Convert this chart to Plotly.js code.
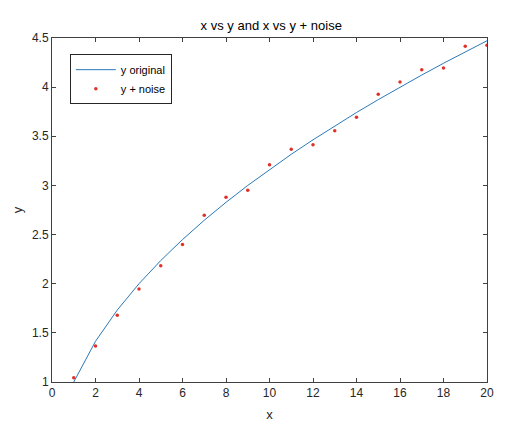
<!DOCTYPE html>
<html>
<head>
<meta charset="utf-8">
<script src="https://cdn.plot.ly/plotly-3.0.1.min.js"></script>
<style>html,body{margin:0;padding:0;background:#fff;}#chart{width:507px;height:440px;}</style>
</head>
<body>
<div id="chart"></div>
<script>
const xValues = [1,2,3,4,5,6,7,8,9,10,11,12,13,14,15,16,17,18,19,20];
const yOriginal = [1.000,1.414,1.732,2.000,2.236,2.449,2.646,2.828,3.000,3.162,3.317,3.464,3.606,3.742,3.873,4.000,4.123,4.243,4.359,4.472];
const yNoise = [1.044,1.366,1.679,1.946,2.183,2.400,2.696,2.879,2.950,3.211,3.367,3.414,3.557,3.693,3.927,4.052,4.177,4.194,4.415,4.425];
const xTicks = [0,2,4,6,8,10,12,14,16,18,20];
const yTicks = [1,1.5,2,2.5,3,3.5,4,4.5];

const font = {family: 'Liberation Sans, Arial, sans-serif', size: 12, color: '#262626'};
const axisCommon = {
  showgrid: false, zeroline: false, showline: true, linecolor: '#404040', linewidth: 1,
  mirror: 'ticks', ticks: 'inside', ticklen: 4, tickcolor: '#404040', tickwidth: 1,
  tickfont: font
};

const data = [
  {x: xValues, y: yOriginal, type: 'scatter', mode: 'lines', name: 'y original',
   line: {color: '#2a7ab8', width: 1}},
  {x: xValues, y: yNoise, type: 'scatter', mode: 'markers', name: 'y + noise',
   marker: {color: '#e0302a', size: 3.5, symbol: 'circle'}}
];

const layout = {
  width: 507, height: 440,
  margin: {l: 52, r: 20, t: 38, b: 58},
  paper_bgcolor: '#ffffff', plot_bgcolor: '#ffffff',
  font: font,
  showlegend: true,
  title: {text: 'x vs y and x vs y + noise', font: {family: font.family, size: 13, color: '#000'},
          x: 0.535, xanchor: 'center', y: 0.943, yanchor: 'middle'},
  xaxis: Object.assign({}, axisCommon, {range: [0, 20], tickvals: xTicks, ticktext: xTicks.map(String),
          title: {text: 'x', font: {family: font.family, size: 13, color: '#262626'}, standoff: 10}}),
  yaxis: Object.assign({}, axisCommon, {range: [1, 4.5], tickvals: yTicks, ticktext: yTicks.map(String),
          title: {text: 'y', font: {family: font.family, size: 13, color: '#262626'}, standoff: 6}}),
  legend: {x: 0.041, y: 0.953, xanchor: 'left', yanchor: 'top', bgcolor: '#ffffff',
           bordercolor: '#262626', borderwidth: 1, font: {family: font.family, size: 11, color: '#000'},
           tracegroupgap: 0, itemwidth: 40}
};

Plotly.newPlot('chart', data, layout, {displayModeBar: false, staticPlot: true});
</script>
</body>
</html>
